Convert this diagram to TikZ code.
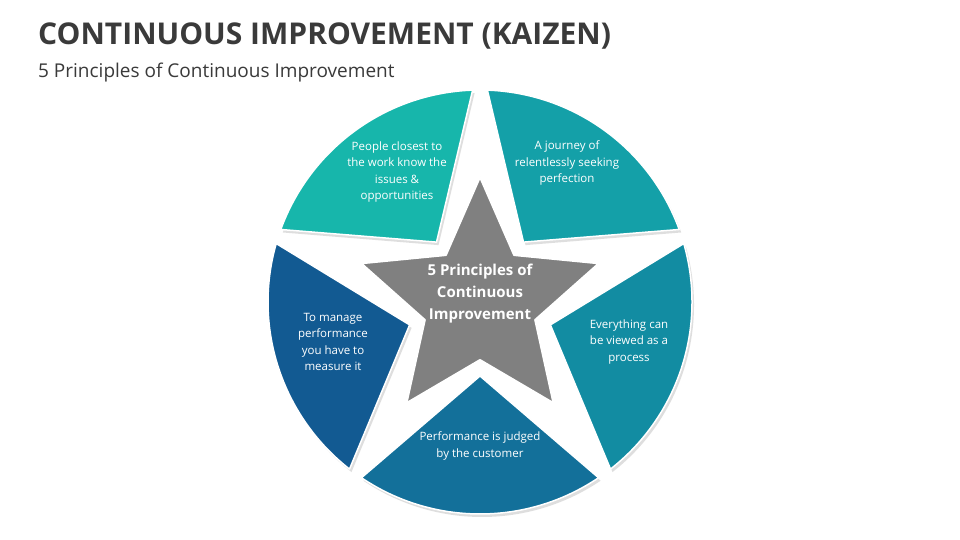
\documentclass[tikz,border=0pt]{standalone}
\usepackage{fontspec}
\setmainfont{Open Sans}
\usetikzlibrary{calc}
\definecolor{cA}{HTML}{17B6AB}
\definecolor{cB}{HTML}{14A0A8}
\definecolor{cC}{HTML}{128CA2}
\definecolor{cD}{HTML}{13709A}
\definecolor{cE}{HTML}{125A92}
\definecolor{title}{HTML}{3A3A3A}
\tikzset{seg/.style={draw=white,line width=1.5pt,line join=round},
 segtext/.style={text=white,align=center,font=\fontsize{11.5}{16.5}\selectfont}}
\begin{document}
\begin{tikzpicture}[x=1pt,y=1pt]
\useasboundingbox (0,0) rectangle (960,540);
\fill[white] (0,0) rectangle (960,540);
\node[anchor=west,text=title,font=\fontsize{30}{34}\selectfont\bfseries,inner sep=0pt] (t) at (38,504) {CONTINUOUS IMPROVEMENT (KAIZEN)};
\node[anchor=west,text=title,font=\fontsize{19}{22}\selectfont,inner sep=0pt] (s) at (38,467) {5 Principles of Continuous Improvement};
\coordinate (C) at (480,238);
\foreach \k/\c in {0/cB,1/cC,2/cD,3/cE,4/cA}{
  \pgfmathsetmacro\a{88-72*\k}
  \pgfmathsetmacro\b{20-72*\k}
  \pgfmathsetmacro\v{54-72*\k}
  \fill[black!25,opacity=0.5] ($(C)+(\a:212)+(2,-3)$) arc[start angle=\a,end angle=\b,radius=212] -- ($(C)+(\v:74)+(2,-3)$) -- cycle;
  \filldraw[seg,fill=\c] ($(C)+(\a:212)$) arc[start angle=\a,end angle=\b,radius=212] -- ($(C)+(\v:74)$) -- cycle;
}
\filldraw[seg,fill=black!50,line width=2pt]
 ($(C)+(90:125)$) -- ($(C)+(126:58)$) -- ($(C)+(162:125)$) -- ($(C)+(198:58)$) -- ($(C)+(234:125)$) -- ($(C)+(270:58)$) -- ($(C)+(306:125)$) -- ($(C)+(342:58)$) -- ($(C)+(18:125)$) -- ($(C)+(54:58)$) -- cycle;
\node[segtext] (p1) at (397,368) {People closest to\\the work know the\\issues \&\\opportunities};
\node[segtext] (p2) at (567,377) {A journey of\\relentlessly seeking\\perfection};
\node[segtext] (p3) at (629,198) {Everything can\\be viewed as a\\process};
\node[segtext] (p4) at (480,94) {Performance is judged\\by the customer};
\node[segtext] (p5) at (333,198) {To manage\\performance\\you have to\\measure it};
\node[text=white,align=center,font=\fontsize{15}{22}\selectfont\bfseries] (st) at (480,246) {5 Principles of\\Continuous\\Improvement};
\end{tikzpicture}
\end{document}
